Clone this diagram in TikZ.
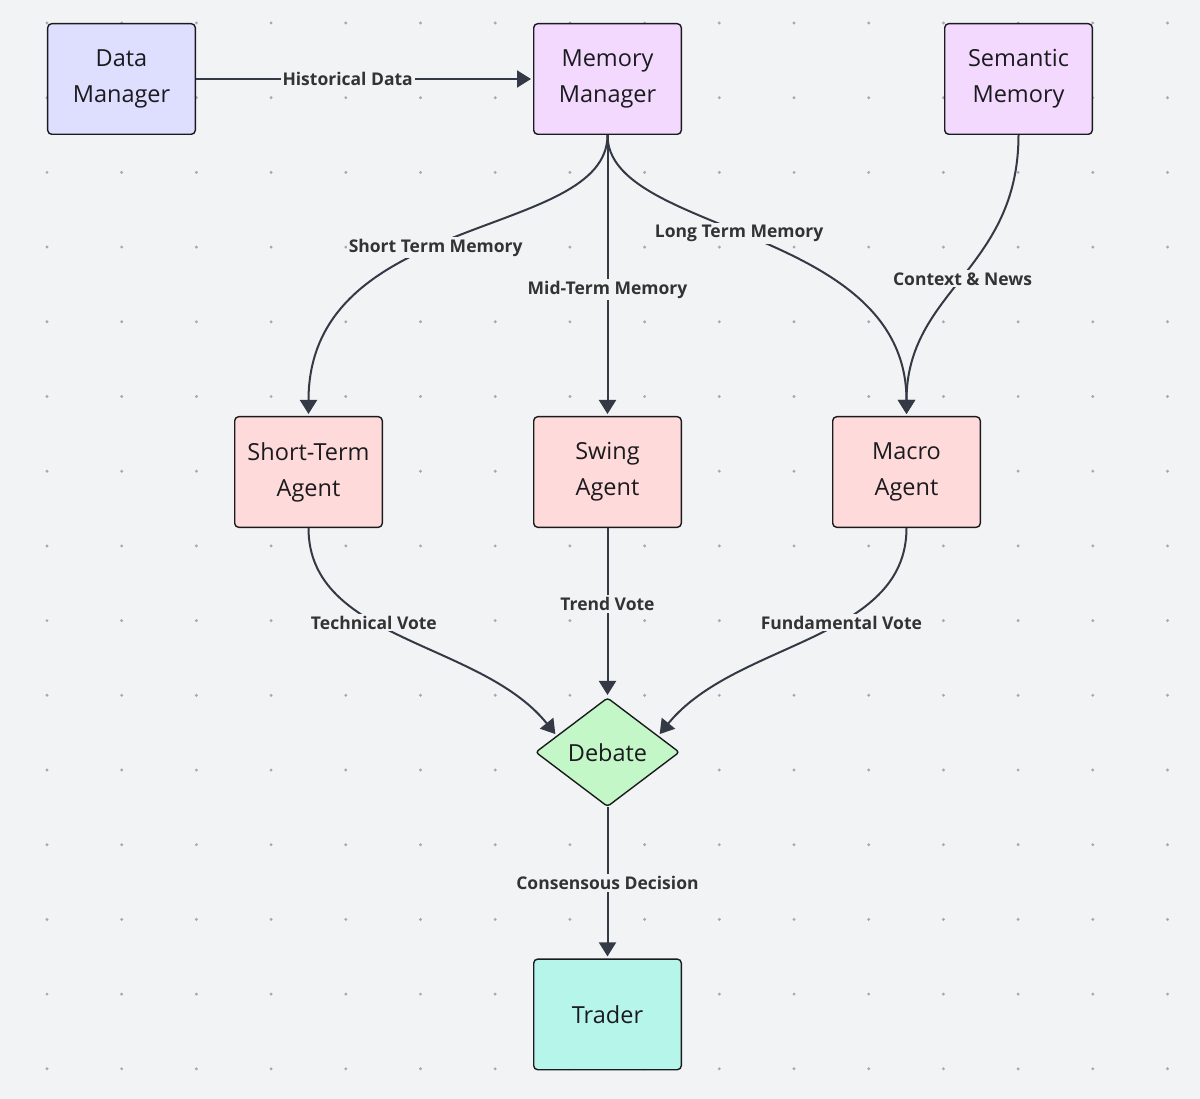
\documentclass[tikz,border=0pt]{standalone}
\usepackage{fontspec}
\setmainfont{Open Sans}
\usepackage{xcolor}
\usetikzlibrary{shapes.geometric,arrows.meta,positioning,calc}

\definecolor{bgc}{HTML}{F2F3F5}
\definecolor{dotc}{HTML}{A7A8B0}
\definecolor{edgec}{HTML}{343A45}
\definecolor{linec}{HTML}{1B1B1F}
\definecolor{labelc}{HTML}{333333}
\definecolor{dmfill}{HTML}{DEDEFF}
\definecolor{memfill}{HTML}{F3D9FE}
\definecolor{agfill}{HTML}{FFDADA}
\definecolor{debfill}{HTML}{C3F7C8}
\definecolor{trfill}{HTML}{B6F5EA}

\begin{document}
\begin{tikzpicture}[x=1pt, y=1pt, node distance=150pt,
    box/.style={rectangle, draw=linec, line width=1.4pt, rounded corners=4pt, minimum width=147.6pt, minimum height=110.6pt, text width=135pt, align=center, text=linec, font=\fontsize{23.5}{36}\selectfont},
    decide/.style={diamond, draw=linec, line width=1.4pt, rounded corners=3pt, aspect=1.32, minimum width=144pt, minimum height=109pt, inner sep=1pt, fill=debfill, text=linec, font=\fontsize{23.5}{26}\selectfont},
    flow/.style={draw=edgec, line width=2pt, -{Triangle[length=14pt,width=17pt]}, shorten >=2pt},
    elabel/.style={fill=bgc, text=labelc, inner sep=2pt, font=\bfseries\fontsize{17.5}{19}\selectfont}]

    % canvas and dot grid
    \fill[bgc] (-47,23) rectangle (1153,-1076);
    \useasboundingbox (-47,23) rectangle (1153,-1076);
    \foreach \i in {0,...,15}
        \foreach \j in {0,...,14}
            \fill[dotc] (74.7*\i,-74.7*\j) circle (1.6pt);

    \node[box, fill=dmfill, anchor=north west] (dm) at (0,0) {Data\\Manager};
    \node[box, fill=memfill, right=337pt of dm] (mm) {Memory\\Manager};
    \node[box, fill=memfill, right=262pt of mm] (sem) {Semantic\\Memory};

    \node[box, fill=agfill, below=281pt of mm] (swing) {Swing\\Agent};
    \node[box, fill=agfill, left=of swing] (sta) {Short-Term\\Agent};
    \node[box, fill=agfill, right=of swing] (macro) {Macro\\Agent};

    \node[decide, below=169pt of swing] (deb) {Debate};
    \node[box, fill=trfill, below=151pt of deb] (trader) {Trader};

    \draw[flow] (dm) -- node[elabel, pos=0.45] {Historical Data} (mm);
    \draw[flow] (mm.south) .. controls ($(mm.south)+(0,-105)$) and ($(sta.north)+(0,206)$) .. node[elabel, pos=0.55] {Short Term Memory} (sta.north);
    \draw[flow] (mm) -- node[elabel, pos=0.55] {Mid-Term Memory} (swing);
    \draw[flow] (mm.south) .. controls ($(mm.south)+(0,-100)$) and ($(macro.north)+(0,191)$) .. node[elabel, pos=0.46] {Long Term Memory} (macro.north);
    \draw[flow] (sem.south) .. controls ($(sem.south)+(0,-135)$) and ($(macro.north)+(0,126)$) .. node[elabel, pos=0.5] {Context \& News} (macro.north);

    \draw[flow] (sta.south) .. controls ($(sta.south)+(0,-113)$) and ($(sta.south)+(172,-113)$) .. node[elabel, pos=0.4] {Technical Vote} ($(deb.west)!0.3!(deb.north)$);
    \draw[flow] (swing) -- node[elabel, pos=0.45] {Trend Vote} (deb);
    \draw[flow] (macro.south) .. controls ($(macro.south)+(0,-113)$) and ($(macro.south)+(-171,-113)$) .. node[elabel, pos=0.4] {Fundamental Vote} ($(deb.east)!0.3!(deb.north)$);
    \draw[flow] (deb) -- node[elabel, pos=0.5] {Consensous Decision} (trader);

\end{tikzpicture}
\end{document}
